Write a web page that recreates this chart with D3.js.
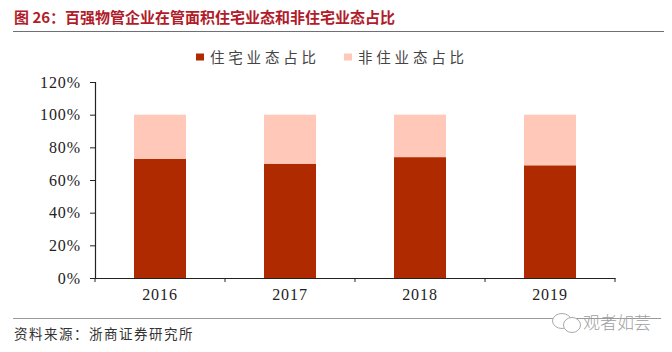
<!DOCTYPE html>
<html>
<head>
<meta charset="utf-8">
<script src="https://cdn.jsdelivr.net/npm/d3@7"></script>
<style>
  html, body { margin: 0; padding: 0; background: #fff; }
  svg { display: block; }
  .axis text { font-family: "Liberation Serif", serif; font-size: 16px; fill: #222; letter-spacing: 0.9px; }
</style>
</head>
<body>
<div id="chart"></div>
<script>
// data
const years = ["2016", "2017", "2018", "2019"];
const residential = [73, 70, 74, 69];
const nonResidential = [27, 30, 26, 31];
const seriesNames = ["住宅业态占比", "非住业态占比"];
const yTicks = [0, 20, 40, 60, 80, 100, 120];
const titleText = "图 26：百强物管企业在管面积住宅业态和非住宅业态占比";
const sourceText = "资料来源：浙商证券研究所";
const watermarkText = "观者如芸";

const WIDTH = 672, HEIGHT = 352;
const margin = { top: 82, right: 57, bottom: 74, left: 95 };
const width = WIDTH - margin.left - margin.right;
const height = HEIGHT - margin.top - margin.bottom;
const colors = ["#b02a00", "#ffc8b8"];

const svg = d3.select("#chart").append("svg")
  .attr("width", WIDTH)
  .attr("height", HEIGHT)
  .attr("viewBox", `0 0 ${WIDTH} ${HEIGHT}`);

// title + rules
svg.append("text")
  .attr("x", 14).attr("y", 23)
  .attr("fill", "#b01c2a")
  .style("font-family", '"Noto Sans CJK SC", sans-serif')
  .style("font-size", "15px")
  .style("font-weight", "700")
  .text(titleText);

svg.append("line").attr("x1", 13).attr("x2", 664).attr("y1", 31.5).attr("y2", 31.5)
  .attr("stroke", "#6f6f75").attr("stroke-width", 1);
svg.append("line").attr("x1", 13).attr("x2", 661).attr("y1", 318.5).attr("y2", 318.5)
  .attr("stroke", "#9a9a9a").attr("stroke-width", 1);

const g = svg.append("g").attr("transform", `translate(${margin.left},${margin.top})`);

// scales
const x = d3.scaleBand().domain(years).range([0, width]).paddingInner(0.6).paddingOuter(0.3);
const xOuter = d3.scaleBand().domain(years).range([0, width]);
const y = d3.scaleLinear().domain([0, 120]).range([height, 0]);

// stacked bars
const rows = years.map((yr, i) => ({ year: yr, a: residential[i], b: nonResidential[i] }));
const stacked = d3.stack().keys(["a", "b"])(rows);

g.selectAll(".layer")
  .data(stacked)
  .enter()
  .append("g")
  .attr("class", "layer")
  .attr("fill", (d, i) => colors[i])
  .selectAll("rect")
  .data(d => d)
  .enter()
  .append("rect")
  .attr("x", d => x(d.data.year))
  .attr("width", x.bandwidth())
  .attr("y", d => y(d[1]))
  .attr("height", d => y(d[0]) - y(d[1]));

// axes
const gy = g.append("g").attr("class", "axis")
  .call(d3.axisLeft(y).tickValues(yTicks).tickFormat(d => d + "%").tickSize(5).tickPadding(9));
const gx = g.append("g").attr("class", "axis")
  .attr("transform", `translate(0,${height})`)
  .call(d3.axisBottom(xOuter).tickSize(0).tickPadding(11));

// x ticks sit on the band edges, not the centres
gx.selectAll(".edge")
  .data(d3.range(years.length + 1))
  .enter()
  .append("line")
  .attr("class", "edge")
  .attr("x1", i => i * xOuter.step())
  .attr("x2", i => i * xOuter.step())
  .attr("y1", 0).attr("y2", 4)
  .attr("stroke", "#222");

svg.selectAll(".axis path, .axis line").attr("stroke", "#222");
svg.selectAll(".axis path").attr("stroke-width", 1.2);

// legend
const legendX = [196, 344];
const legendG = svg.append("g");
seriesNames.forEach((name, i) => {
  legendG.append("rect")
    .attr("x", legendX[i]).attr("y", 53.5)
    .attr("width", 8).attr("height", 7)
    .attr("fill", colors[i]);
  legendG.append("text")
    .attr("x", legendX[i] + 14).attr("y", 62.5)
    .attr("fill", "#444")
    .style("font-family", '"Noto Sans CJK SC", sans-serif')
    .style("font-size", "14.5px")
    .style("letter-spacing", "3.8px")
    .text(name);
});

// source note
svg.append("text")
  .attr("x", 14).attr("y", 339)
  .attr("fill", "#333")
  .style("font-family", '"Noto Sans CJK SC", sans-serif')
  .style("font-size", "13.5px")
  .style("letter-spacing", "1.5px")
  .text(sourceText);

// watermark
const wm = svg.append("g").attr("fill", "#fff").attr("stroke", "#aaa").attr("stroke-width", 1);
wm.append("ellipse").attr("cx", 562).attr("cy", 321).attr("rx", 9.5).attr("ry", 7.5);
wm.append("ellipse").attr("cx", 572).attr("cy", 325).attr("rx", 8.5).attr("ry", 7.5);
svg.append("text")
  .attr("x", 583).attr("y", 329)
  .attr("fill", "#a0a0a0")
  .style("font-family", '"Noto Sans CJK SC", sans-serif')
  .style("font-size", "17px")
  .style("font-weight", "300")
  .text(watermarkText);
</script>
</body>
</html>
